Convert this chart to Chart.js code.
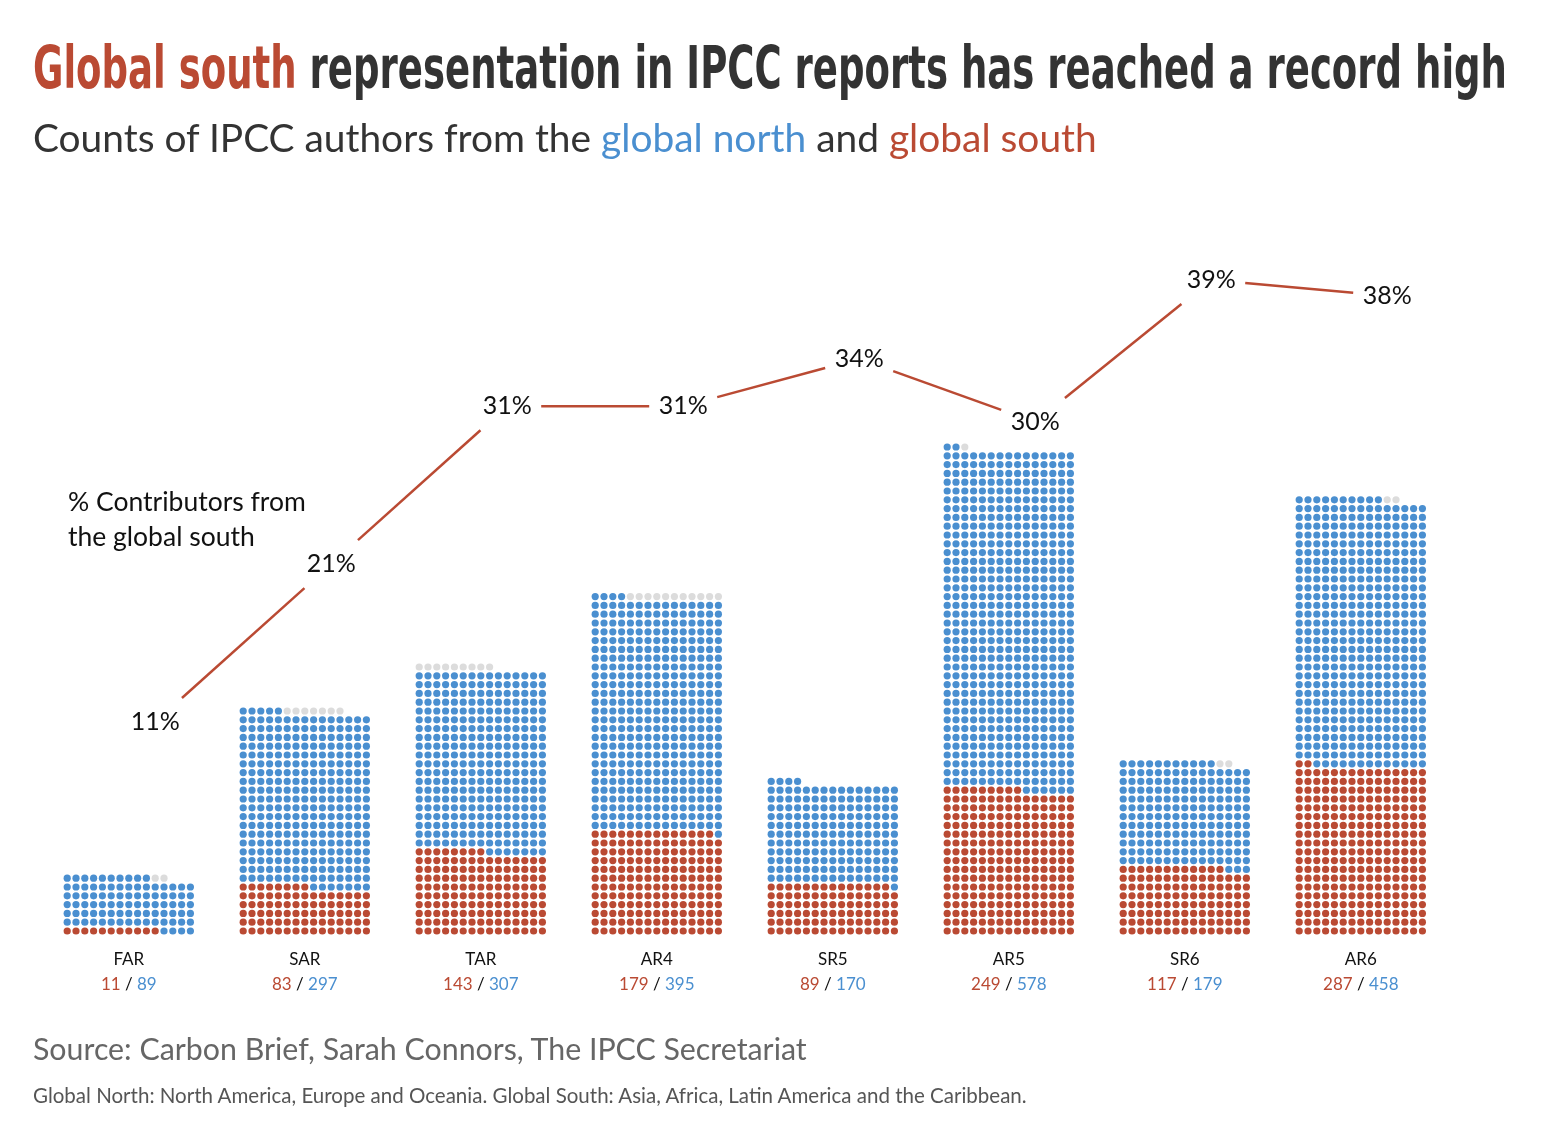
<!DOCTYPE html>
<html><head><meta charset="utf-8">
<script src="https://cdn.jsdelivr.net/npm/chart.js@4"></script>
<style>
html,body{margin:0;padding:0;background:#fff;}
#wrap{position:relative;width:1560px;height:1144px;overflow:hidden;background:#fff;}
#c{position:absolute;left:0;top:0;}
.t{position:absolute;left:33px;white-space:nowrap;margin:0;line-height:1;}
#title{top:39px;font-family:"DejaVu Sans Condensed","DejaVu Sans",sans-serif;font-stretch:condensed;font-weight:bold;color:#333;font-size:58px;transform-origin:0 0;}
#subtitle{top:118px;font-family:Lato,"Open Sans",sans-serif;color:#333;font-size:36px;}
#source{top:1033px;font-family:Lato,"Open Sans",sans-serif;color:#666;font-size:27px;}
#note{top:1085px;font-family:Lato,"Open Sans",sans-serif;color:#555;font-size:17px;}
.red{color:#ba4a33;}
.blue{color:#4a8fd0;}
</style></head>
<body>
<div id="wrap">
<canvas id="c" width="1560" height="1144"></canvas>
<div class="t" id="title"><span class="red">Global south</span> representation in IPCC reports has reached a record high</div>
<div class="t" id="subtitle">Counts of IPCC authors from the <span class="blue">global north</span> and <span class="red">global south</span></div>
<div class="t" id="source">Source: Carbon Brief, Sarah Connors, The IPCC Secretariat</div>
<div class="t" id="note">Global North: North America, Europe and Oceania. Global South: Asia, Africa, Latin America and the Caribbean.</div>
</div>
<script>
// ---- data ----
const categories = ['FAR','SAR','TAR','AR4','SR5','AR5','SR6','AR6'];
const southCounts = [11, 83, 143, 179, 89, 249, 117, 287];
const northCounts = [89, 297, 307, 395, 170, 578, 179, 458];
const otherCounts = [2, 7, 9, 11, 0, 1, 2, 2];
const southShare = [11, 21, 31, 31, 34, 30, 39, 38];

// ---- style ----
const RED = '#ba4a33', BLUE = '#4a8fd0', GREY = '#dcdcdc';
const FONT = 'Lato, "Open Sans", sans-serif';
const COLS = 15, SLOT = 20;

// fit header/footer text widths
function fit(id, w){
  const el = document.getElementById(id);
  const fs = parseFloat(getComputedStyle(el).fontSize);
  const r = el.getBoundingClientRect().width;
  el.style.fontSize = (fs * w / r) + 'px';
}
function squeeze(id, w){
  const el = document.getElementById(id);
  const r = el.getBoundingClientRect().width;
  el.style.transform = 'scaleX(' + (w / r) + ')';
}
squeeze('title', 1474); fit('subtitle', 1064); fit('source', 774); fit('note', 994);

// build waffle points from counts
const southPts = [], northPts = [], otherPts = [];
categories.forEach((c, i) => {
  const total = southCounts[i] + northCounts[i] + otherCounts[i];
  for (let k = 0; k < total; k++) {
    const p = { x: i * SLOT + (k % COLS) - (COLS - 1) / 2, y: Math.floor(k / COLS) };
    if (k < southCounts[i]) southPts.push(p);
    else if (k < southCounts[i] + northCounts[i]) northPts.push(p);
    else otherPts.push(p);
  }
});
const sharePts = southShare.map((v, i) => ({ x: i * SLOT + 3, y: v }));

const overlay = {
  id: 'overlay',
  afterDatasetsDraw(chart) {
    const ctx = chart.ctx;
    const xs = chart.scales.x;
    const meta = chart.getDatasetMeta(3);
    const pts = meta.data.map(e => ({ x: e.x, y: e.y }));
    // line with gaps around labels
    const hw = 34, hh = 24;
    ctx.save();
    ctx.strokeStyle = RED; ctx.lineWidth = 2.5; ctx.lineCap = 'butt';
    for (let i = 0; i < pts.length - 1; i++) {
      const a = pts[i], b = pts[i + 1];
      const dx = b.x - a.x, dy = b.y - a.y;
      const t = Math.min(Math.abs(dx) > 0 ? hw / Math.abs(dx) : 1, Math.abs(dy) > 0 ? hh / Math.abs(dy) : 1);
      ctx.beginPath();
      ctx.moveTo(a.x + dx * t, a.y + dy * t);
      ctx.lineTo(b.x - dx * t, b.y - dy * t);
      ctx.stroke();
    }
    // percentage labels
    ctx.fillStyle = '#111';
    ctx.font = '25px ' + FONT;
    ctx.textAlign = 'center'; ctx.textBaseline = 'middle';
    pts.forEach((p, i) => ctx.fillText(southShare[i] + '%', p.x, p.y));
    // annotation
    ctx.textAlign = 'left';
    ctx.font = '26.5px ' + FONT;
    ctx.fillText('% Contributors from', 68, 502);
    ctx.fillText('the global south', 68, 537);
    // category labels and counts
    categories.forEach((c, i) => {
      const cx = xs.getPixelForValue(i * SLOT);
      ctx.font = '17px ' + FONT;
      ctx.fillStyle = '#111'; ctx.textAlign = 'center';
      ctx.fillText(c, cx, 960);
      const parts = [[String(southCounts[i]), RED], [' / ', '#111'], [String(northCounts[i]), BLUE]];
      const widths = parts.map(p => ctx.measureText(p[0]).width);
      let x = cx - widths.reduce((s, w) => s + w, 0) / 2;
      ctx.textAlign = 'left';
      parts.forEach((p, j) => { ctx.fillStyle = p[1]; ctx.fillText(p[0], x, 985); x += widths[j]; });
    });
    ctx.restore();
  }
};

const dot = { pointRadius: 3.6, pointHoverRadius: 3.6, borderWidth: 0, showLine: false };
new Chart(document.getElementById('c'), {
  type: 'scatter',
  data: {
    datasets: [
      { label: 'Global south', data: southPts, backgroundColor: RED, pointBackgroundColor: RED, ...dot },
      { label: 'Global north', data: northPts, backgroundColor: BLUE, pointBackgroundColor: BLUE, ...dot },
      { label: 'Unclassified', data: otherPts, backgroundColor: GREY, pointBackgroundColor: GREY, ...dot },
      { type: 'line', label: '% from global south', data: sharePts, yAxisID: 'yp', borderColor: 'rgba(0,0,0,0)', pointRadius: 0, borderWidth: 0 }
    ]
  },
  options: {
    responsive: false, animation: false, devicePixelRatio: 1,
    layout: { padding: { left: 40.8, right: 111.2, top: 250, bottom: 208.6 } },
    plugins: { legend: { display: false }, tooltip: { enabled: false } },
    scales: {
      x: { type: 'linear', min: -10, max: 150, display: false },
      y: { type: 'linear', min: -0.5, max: 77.39, display: false },
      yp: { type: 'linear', min: -2.52, max: 40.9, display: false }
    }
  },
  plugins: [overlay]
});
</script>
</body></html>
